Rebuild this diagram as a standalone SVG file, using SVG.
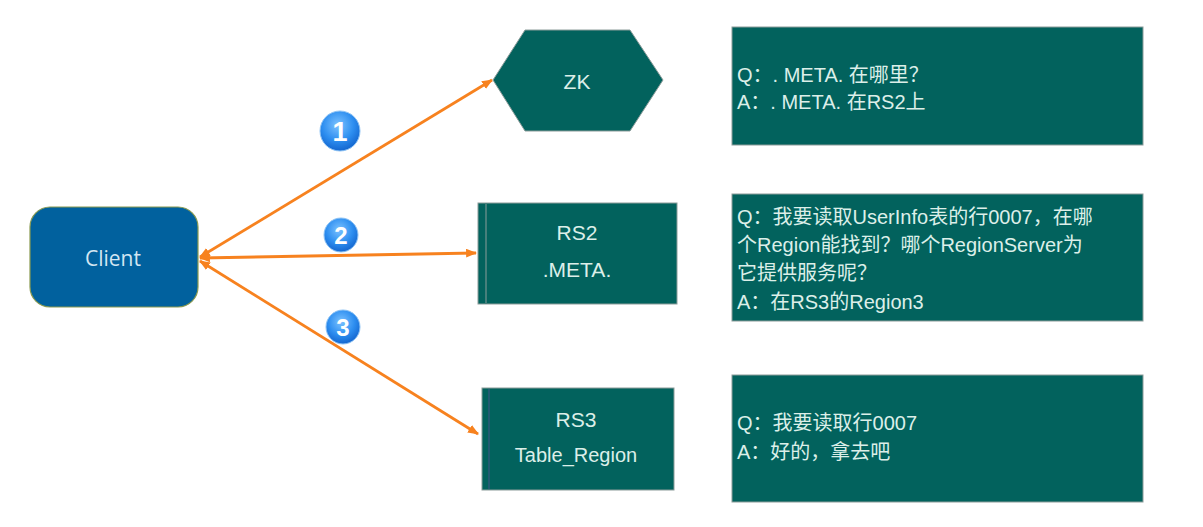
<svg xmlns="http://www.w3.org/2000/svg" width="1203" height="527" viewBox="0 0 1203 527">
<defs>
<style>
.teal{fill:#02625d;stroke:#8c9c9a;stroke-width:1}
.lbl{font-family:"Liberation Sans","Noto Sans CJK SC",sans-serif;fill:#dcefe9;text-anchor:middle}
.qa{font-family:"Liberation Sans","Noto Sans CJK SC",sans-serif;font-size:20px;fill:#dcefe9}
.conn{stroke:#f7821f;stroke-width:2.8;fill:none;marker-end:url(#ah);marker-start:url(#ahs)}
.badge{fill:url(#bg);stroke:#8fc4f5;stroke-width:1}
.num{font-family:"Liberation Sans",sans-serif;font-weight:bold;fill:#ffffff;text-anchor:middle}
</style>
<marker id="ah" viewBox="0 0 10 8" refX="9" refY="4" markerWidth="11" markerHeight="9" markerUnits="userSpaceOnUse" orient="auto">
<path d="M0,0 L10,4 L0,8 z" fill="#f7821f"/>
</marker>
<marker id="ahs" viewBox="0 0 10 8" refX="1" refY="4" markerWidth="11" markerHeight="9" markerUnits="userSpaceOnUse" orient="auto">
<path d="M10,0 L0,4 L10,8 z" fill="#f7821f"/>
</marker>
<radialGradient id="bg" cx="0.45" cy="0.35" r="0.65">
<stop offset="0" stop-color="#7cc2ff"/>
<stop offset="0.6" stop-color="#2d8ef0"/>
<stop offset="1" stop-color="#1466cf"/>
</radialGradient>
</defs>
<rect width="1203" height="527" fill="#ffffff"/>

<g id="connectors">
<line class="conn" x1="200" y1="257" x2="492" y2="80"/>
<line class="conn" x1="200" y1="258" x2="476" y2="253"/>
<line class="conn" x1="200" y1="261" x2="478" y2="434"/>
</g>

<g id="badges">
<circle class="badge" cx="340" cy="131" r="20"/>
<text class="num" x="340" y="141" font-size="27">1</text>
<circle class="badge" cx="341" cy="235" r="17"/>
<text class="num" x="341" y="244" font-size="24">2</text>
<circle class="badge" cx="343" cy="327" r="17"/>
<text class="num" x="343" y="336" font-size="24">3</text>
</g>

<g id="client">
<rect x="30" y="207" width="168" height="100" rx="20" fill="#01619e" stroke="#8a9a50" stroke-width="1.2"/>
<text x="113" y="266" font-family="'Open Sans','Noto Sans',sans-serif" font-size="21" fill="#d3e6f2" text-anchor="middle">Client</text>
</g>

<g id="zk">
<polygon class="teal" points="493,80 525,30 630,30 663,80 630,131 525,131"/>
<text class="lbl" x="577" y="89" font-size="21">ZK</text>
</g>

<g id="rs2">
<rect class="teal" x="478" y="203" width="199" height="101"/>
<line x1="486" y1="204" x2="486" y2="303" stroke="#5e8a86" stroke-width="1.5"/>
<text class="lbl" x="577" y="240" font-size="21">RS2</text>
<text class="lbl" x="577" y="277" font-size="21">.META.</text>
</g>

<g id="rs3">
<rect class="teal" x="482" y="388" width="192" height="102"/>
<line x1="489" y1="389" x2="489" y2="489" stroke="#2d5a7a" stroke-width="1.5"/>
<text class="lbl" x="576" y="427" font-size="21">RS3</text>
<text class="lbl" x="576" y="462" font-size="20">Table_Region</text>
</g>

<g id="qa1">
<rect class="teal" x="732" y="27" width="411" height="118"/>
<text class="qa" x="737" y="82">Q：. META. 在哪里？</text>
<text class="qa" x="737" y="109">A：. META. 在RS2上</text>
</g>

<g id="qa2">
<rect class="teal" x="732" y="194" width="411" height="127"/>
<text class="qa" x="737" y="224">Q：我要读取UserInfo表的行0007，在哪</text>
<text class="qa" x="737" y="252">个Region能找到？哪个RegionServer为</text>
<text class="qa" x="737" y="280">它提供服务呢？</text>
<text class="qa" x="737" y="309">A：在RS3的Region3</text>
</g>

<g id="qa3">
<rect class="teal" x="732" y="375" width="411" height="127"/>
<text class="qa" x="737" y="430">Q：我要读取行0007</text>
<text class="qa" x="737" y="459">A：好的，拿去吧</text>
</g>
</svg>
